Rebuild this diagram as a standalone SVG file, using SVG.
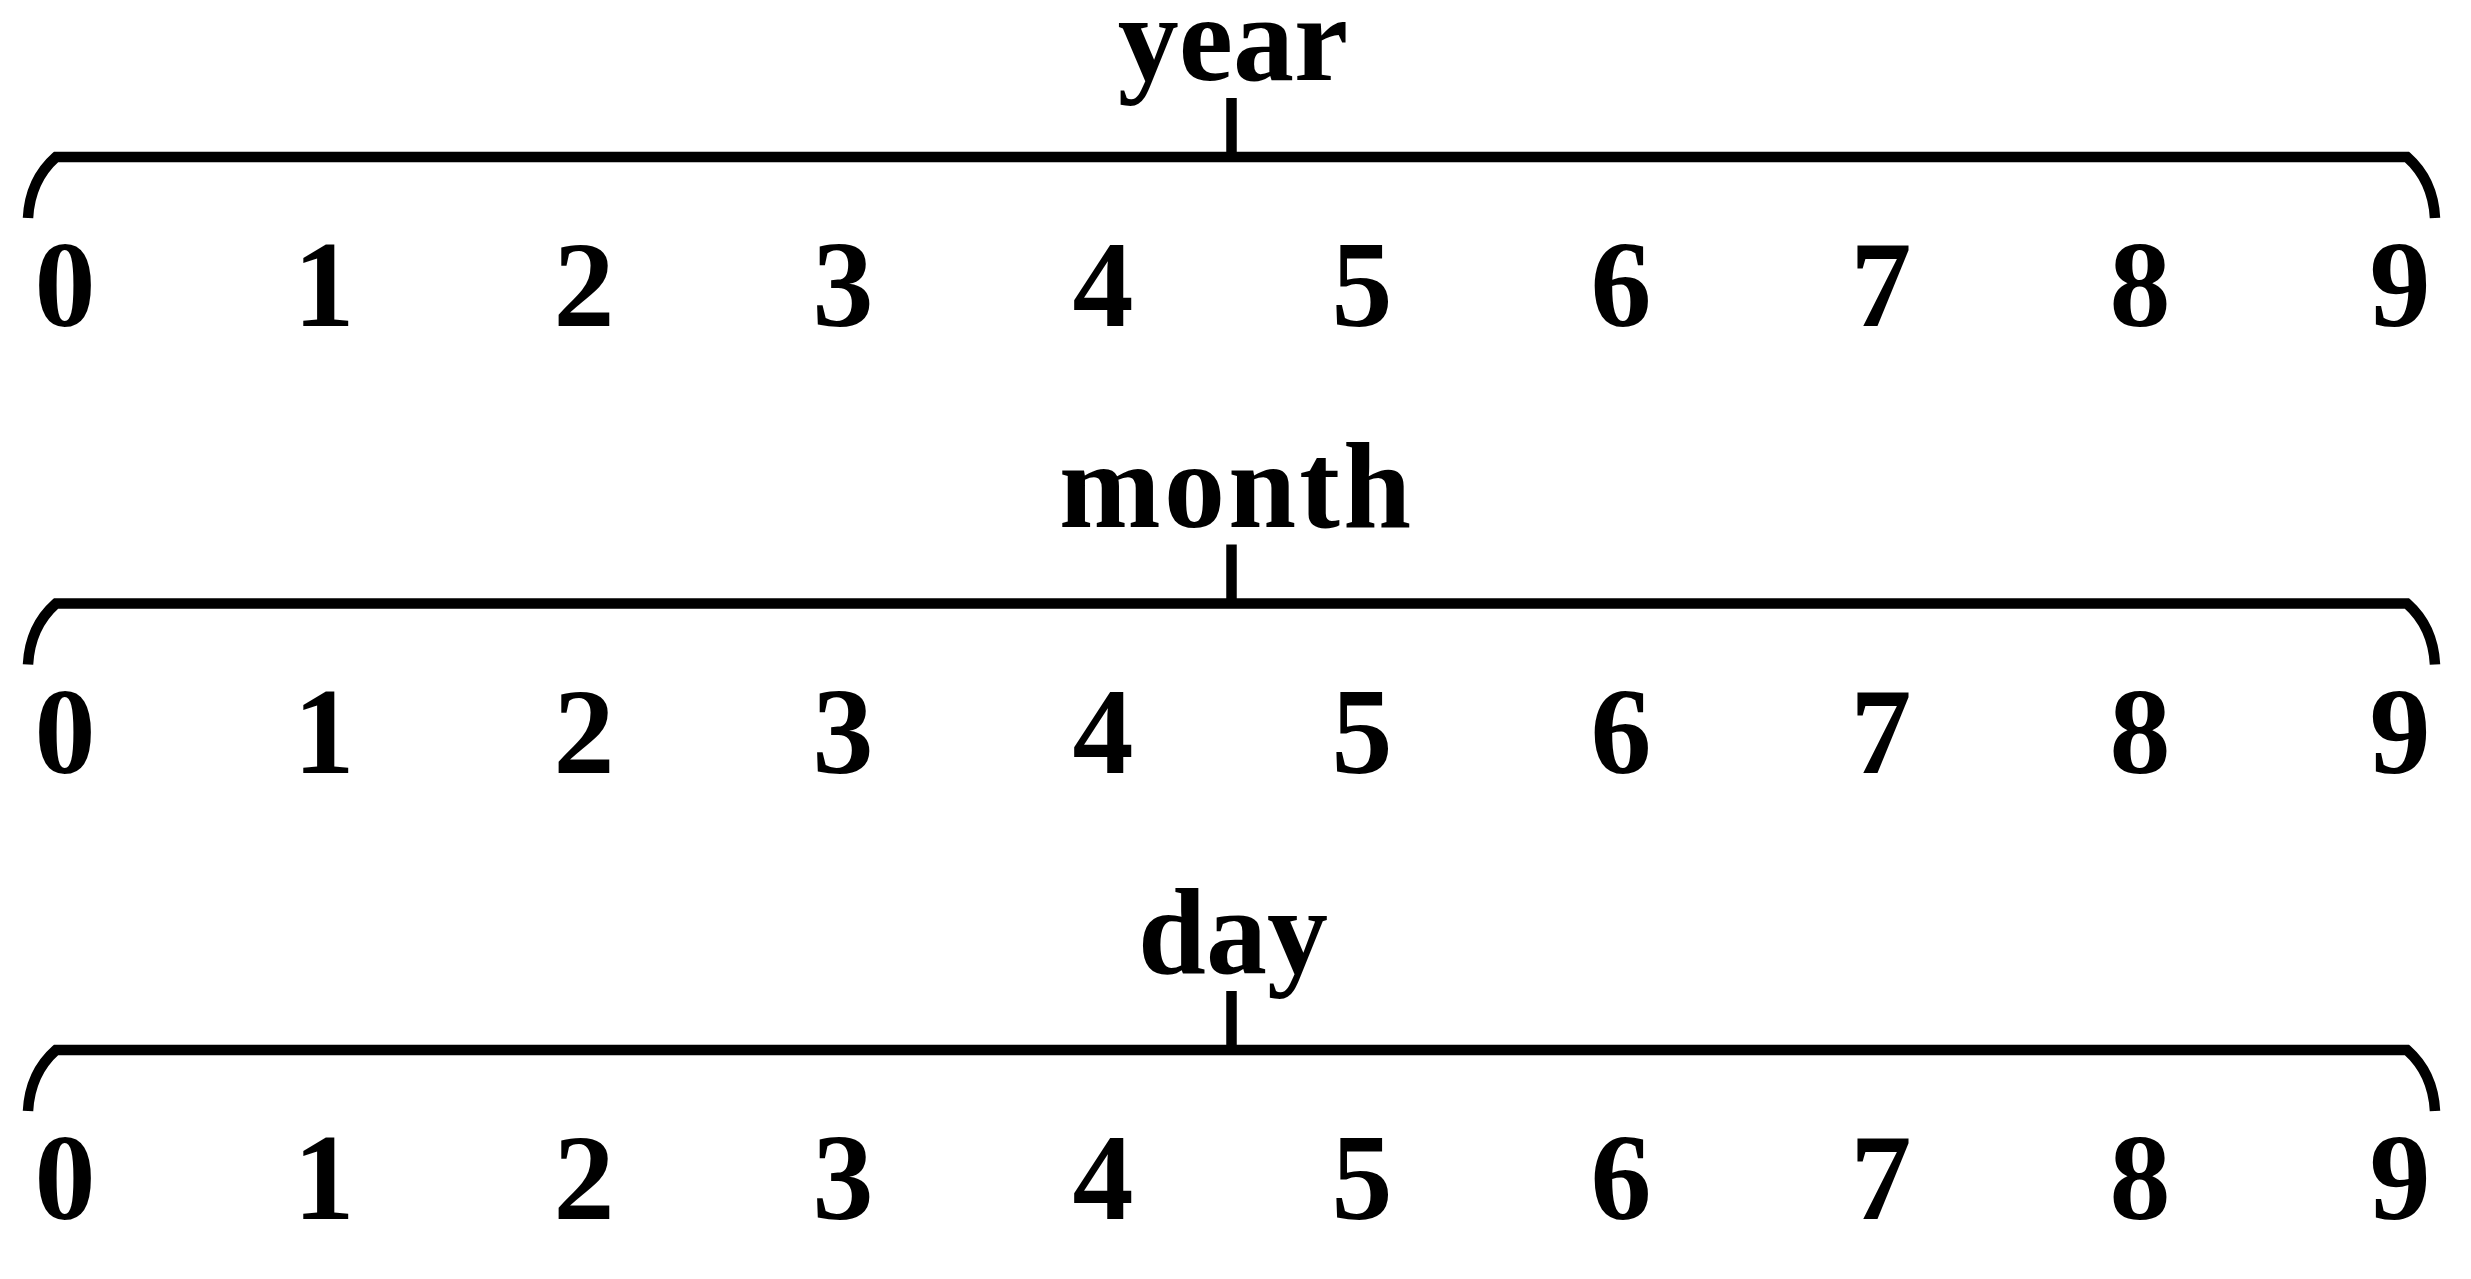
<svg xmlns="http://www.w3.org/2000/svg" width="2471" height="1279" viewBox="0 0 2471 1279">
<style>
.t{font-family:"Liberation Serif","Times New Roman",serif;font-weight:bold;font-size:122px;fill:#000;text-anchor:middle}
.b{fill:none;stroke:#000;stroke-width:10.5;stroke-linejoin:miter;stroke-linecap:butt}
</style>
<defs>
<g id="brace">
<path class="b" d="M 28 218 Q 30 180 56 157 L 2407 157 Q 2433 180 2435 218"/>
<path class="b" d="M 1231.5 98 L 1231.5 157"/>
</g>
<g id="digits">
<text class="t" x="65" y="326">0</text>
<text class="t" x="324" y="326">1</text>
<text class="t" x="584" y="326">2</text>
<text class="t" x="843" y="326">3</text>
<text class="t" x="1103" y="326">4</text>
<text class="t" x="1362" y="326">5</text>
<text class="t" x="1621" y="326">6</text>
<text class="t" x="1881" y="326">7</text>
<text class="t" x="2140" y="326">8</text>
<text class="t" x="2400" y="326">9</text>
</g>
</defs>
<rect width="2471" height="1279" fill="#fff"/>
<g id="row-year">
<text class="t" x="1233" y="80">year</text>
<use href="#brace"/>
<use href="#digits"/>
</g>
<g id="row-month" transform="translate(0,446.5)">
<text class="t" x="1235" y="80" textLength="352" lengthAdjust="spacing">month</text>
<use href="#brace"/>
<use href="#digits"/>
</g>
<g id="row-day" transform="translate(0,893)">
<text class="t" x="1233" y="80">day</text>
<use href="#brace"/>
<use href="#digits"/>
</g>
</svg>
